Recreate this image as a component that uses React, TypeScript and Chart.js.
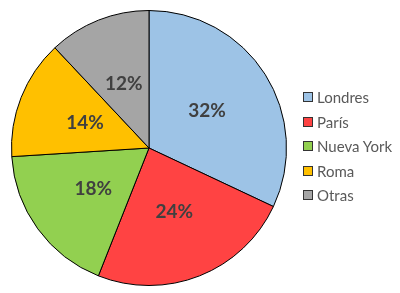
import React, { useEffect, useRef } from "react";
import { Chart, registerables } from "chart.js";

Chart.register(...registerables);

const categories = ["Londres", "París", "Nueva York", "Roma", "Otras"];
const values = [32, 24, 18, 14, 12];
const colors = ["#9DC3E6", "#FF4343", "#92D050", "#FFC000", "#A5A5A5"];

const labelPlugin = {
  id: "sliceLabels",
  afterDatasetsDraw(chart: any) {
    const ctx = chart.ctx;
    const meta = chart.getDatasetMeta(0);
    const data = chart.data.datasets[0].data as number[];
    const total = data.reduce((a, b) => a + b, 0);
    ctx.save();
    ctx.font = "bold 19px Lato";
    ctx.fillStyle = "#404040";
    ctx.textAlign = "center";
    ctx.textBaseline = "middle";
    meta.data.forEach((arc: any, i: number) => {
      const p = arc.tooltipPosition();
      const pct = Math.round((data[i] / total) * 100);
      ctx.fillText(pct + "%", p.x, p.y);
    });
    ctx.restore();
  },
};

export default function App() {
  const ref = useRef<HTMLCanvasElement>(null);
  useEffect(() => {
    if (!ref.current) return;
    const chart = new Chart(ref.current, {
      type: "pie",
      data: {
        labels: categories,
        datasets: [
          {
            data: values,
            backgroundColor: colors,
            borderColor: "#000000",
            borderWidth: 1,
            hoverOffset: 0,
          },
        ],
      },
      options: {
        animation: false,
        responsive: false,
        layout: { padding: { left: 11, right: 113, top: 10, bottom: 7 } },
        plugins: {
          legend: { display: false },
          tooltip: { enabled: false },
        },
      },
      plugins: [labelPlugin],
    });
    return () => chart.destroy();
  }, []);

  return (
    <div style={{ position: "fixed", left: 0, top: 0, width: 400, height: 293, background: "#fff" }}>
      <canvas ref={ref} width={400} height={293} style={{ position: "absolute", left: 0, top: 0 }} />
      <div style={{ position: "absolute", left: 303, top: 85.3, fontFamily: "Lato", fontSize: 15, color: "#595959" }}>
        {categories.map((c, i) => (
          <div key={c} style={{ display: "flex", alignItems: "center", height: 24.4 }}>
            <span
              style={{
                display: "inline-block",
                width: 8,
                height: 8,
                background: colors[i],
                border: "1px solid #333",
                marginRight: 4,
              }}
            />
            <span>{c}</span>
          </div>
        ))}
      </div>
    </div>
  );
}
